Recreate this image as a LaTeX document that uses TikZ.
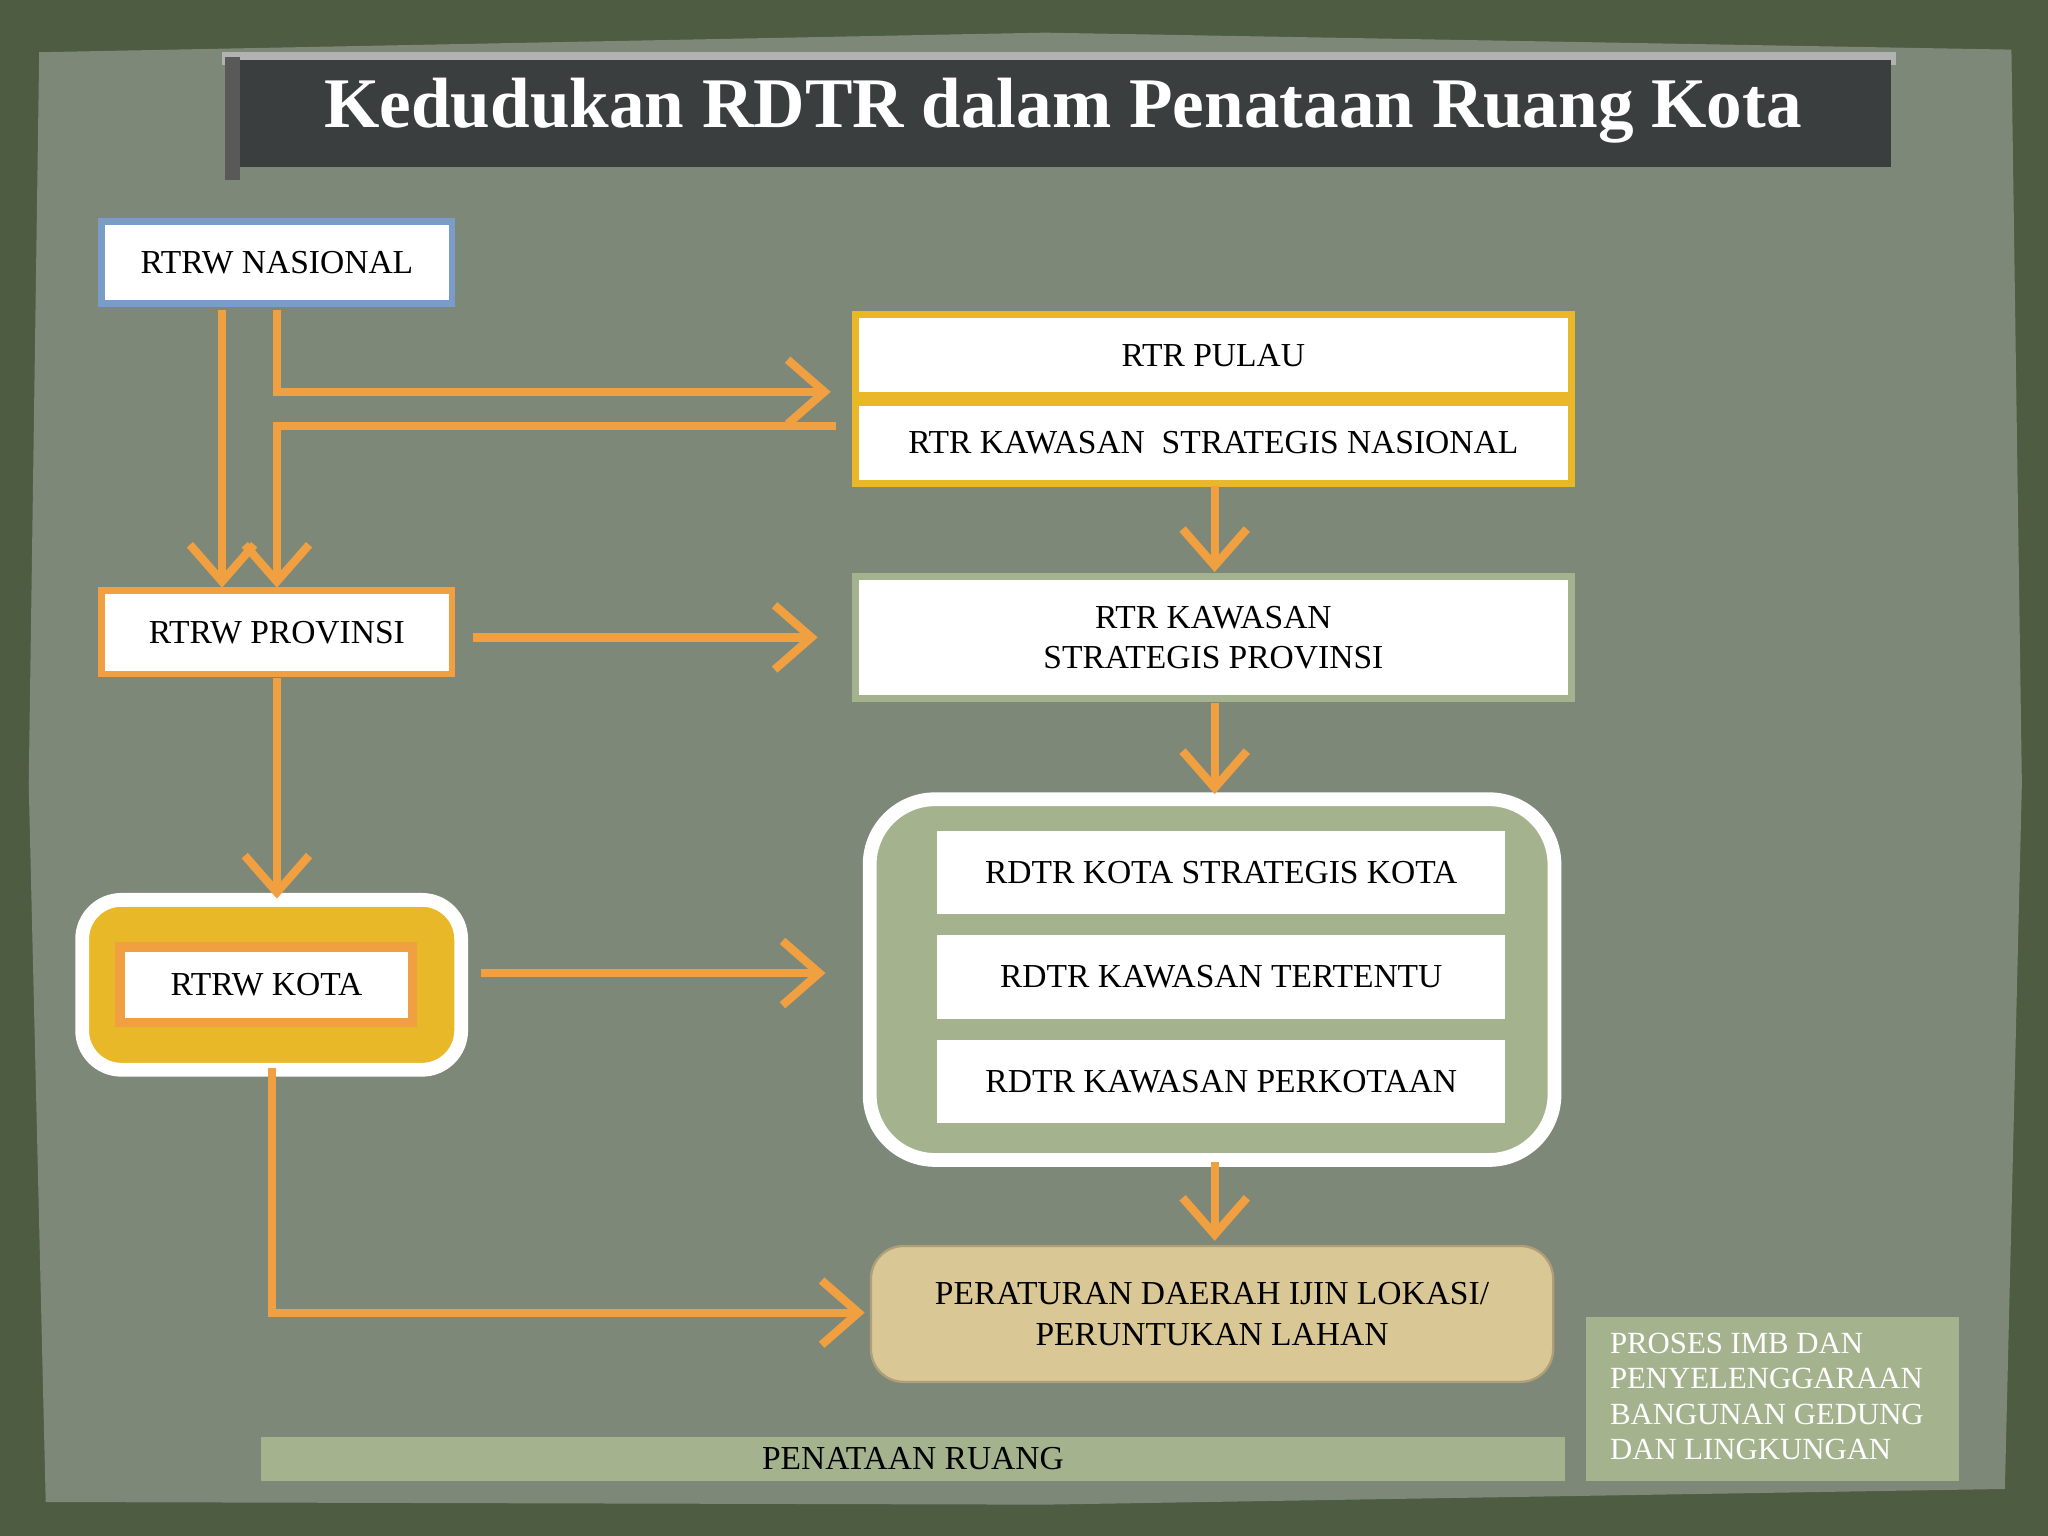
\documentclass[tikz,border=0pt]{standalone}
\usepackage{fontspec}
\setmainfont{Liberation Serif}
\usetikzlibrary{arrows.meta}
\definecolor{bgdark}{HTML}{4E5C42}
\definecolor{panel}{HTML}{7E8878}
\definecolor{titlebar}{HTML}{3B3E3F}
\definecolor{orng}{HTML}{F0A040}
\definecolor{yel}{HTML}{E8B828}
\definecolor{blu}{HTML}{7A9CC8}
\definecolor{lgreen}{HTML}{A4B38E}
\definecolor{sand}{HTML}{D9C796}
\tikzset{
 box/.style={draw, fill=white, line width=1.5pt, minimum height=0.62cm, font=\fontsize{7.3}{8.8}\selectfont, align=center, inner sep=0pt},
 arr/.style={draw=orng, line width=1.8pt, -{Straight Barb[length=8pt,width=14pt,line width=1.8pt]}},
}
\begin{document}
\begin{tikzpicture}[x=0.01cm,y=-0.01cm]
\useasboundingbox (0,0) rectangle (1568,1176);
\fill[bgdark] (0,0) rectangle (1568,1176);
\fill[panel] (30,40) -- (800,25) -- (1540,38) -- (1548,600) -- (1535,1140) -- (800,1152) -- (35,1150) -- (22,600) -- cycle;
% title
\fill[gray!60] (170,40) rectangle (1452,50);
\fill[titlebar] (180,46) rectangle (1448,128);
\fill[gray!70!black] (172,44) rectangle (184,138);
\node[white, font=\bfseries\fontsize{15.5}{18}\selectfont] (title) at (814,85) {Kedudukan RDTR dalam Penataan Ruang Kota};
% nodes
\node[box, draw=blu, minimum width=2.68cm, minimum height=0.63cm] (nas) at (212,201) {RTRW NASIONAL};
\node[box, draw=yel, minimum width=5.48cm] (pul) at (929,272) {RTR PULAU};
\node[box, draw=yel, minimum width=5.48cm] (ksn) at (929,339) {RTR KAWASAN\ \ STRATEGIS NASIONAL};
\node[box, draw=lgreen, minimum width=5.48cm, minimum height=0.93cm] (ksp) at (929,488) {RTR KAWASAN\\STRATEGIS PROVINSI};
\node[box, draw=orng, minimum width=2.68cm, minimum height=0.64cm] (prov) at (212,484) {RTRW PROVINSI};
\node[draw=white, line width=3pt, fill=lgreen, rounded corners=0.5cm, minimum width=5.24cm, minimum height=2.76cm] (grp) at (928,750) {};
\node[box, draw=none, minimum width=4.35cm, minimum height=0.64cm] (r1) at (935,668) {RDTR KOTA STRATEGIS KOTA};
\node[box, draw=none, minimum width=4.35cm, minimum height=0.64cm] (r2) at (935,748) {RDTR KAWASAN TERTENTU};
\node[box, draw=none, minimum width=4.35cm, minimum height=0.64cm] (r3) at (935,828) {RDTR KAWASAN PERKOTAAN};
\node[draw=white, line width=3pt, fill=yel, rounded corners=0.3cm, minimum width=2.9cm, minimum height=1.3cm] (kotao) at (208,754) {};
\node[box, draw=orng, line width=2pt, minimum width=2.24cm, minimum height=0.58cm] (kota) at (204,754) {RTRW KOTA};
\node[fill=sand, draw=sand!80!black, line width=0.5pt, rounded corners=0.25cm, minimum width=5.22cm, minimum height=1.04cm, align=center, font=\fontsize{7.3}{8.8}\selectfont] (perd) at (928,1006) {PERATURAN DAERAH IJIN LOKASI/\\PERUNTUKAN LAHAN};
\node[fill=lgreen, minimum width=9.98cm, minimum height=0.33cm, inner sep=0pt, font=\fontsize{7.3}{8.8}\selectfont] (pen) at (699,1117) {PENATAAN RUANG};
\node[fill=lgreen, minimum width=2.86cm, minimum height=1.26cm, inner sep=0pt] (imb) at (1357,1071) {};
\node[white, anchor=north west, align=left, inner sep=0pt, font=\fontsize{6.7}{7.7}\selectfont] (imbt) at (1232,1020) {PROSES IMB DAN\\PENYELENGGARAAN\\BANGUNAN GEDUNG\\DAN LINGKUNGAN};
% connector end points
\coordinate (a1s) at (170,237); \coordinate (a1e) at (170,450);
\coordinate (a2s) at (212,237); \coordinate (a2e) at (636,300);
\coordinate (a3s) at (640,326); \coordinate (a3e) at (212,450);
\coordinate (a4s) at (930,372); \coordinate (a4e) at (930,438);
\coordinate (a5s) at (362,488); \coordinate (a5e) at (626,488);
\coordinate (a6s) at (930,538); \coordinate (a6e) at (930,608);
\coordinate (a7s) at (212,519); \coordinate (a7e) at (212,688);
\coordinate (a8s) at (368,745); \coordinate (a8e) at (632,745);
\coordinate (a9s) at (930,890); \coordinate (a9e) at (930,950);
\coordinate (a10s) at (208,818); \coordinate (a10e) at (662,1005);
% arrows
\draw[arr] (a1s) -- (a1e);
\draw[arr] (a2s) |- (a2e);
\draw[arr] (a3s) -| (a3e);
\draw[arr] (a4s) -- (a4e);
\draw[arr] (a5s) -- (a5e);
\draw[arr] (a6s) -- (a6e);
\draw[arr] (a7s) -- (a7e);
\draw[arr] (a8s) -- (a8e);
\draw[arr] (a9s) -- (a9e);
\draw[arr] (a10s) |- (a10e);
\end{tikzpicture}
\end{document}
